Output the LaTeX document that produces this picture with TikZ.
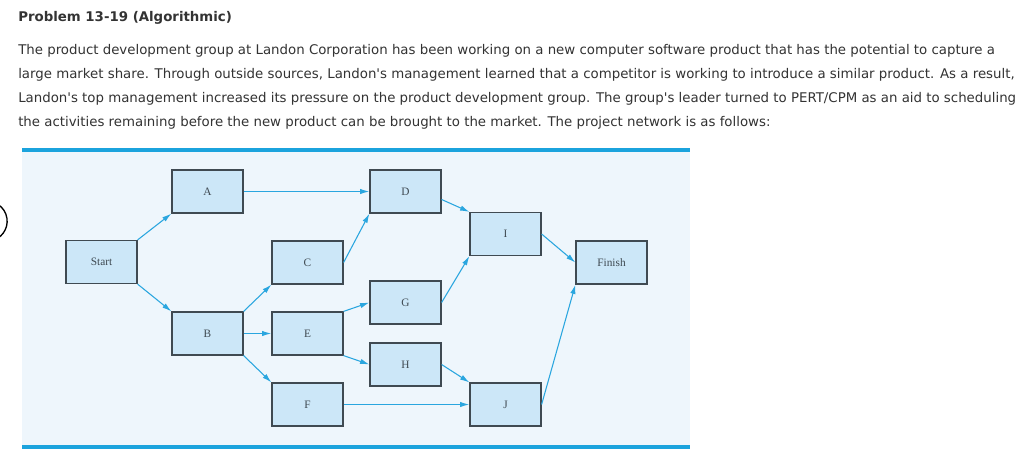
\documentclass[tikz,border=0pt]{standalone}
\usepackage{fontspec}
\setmainfont{DejaVu Sans}
\newfontfamily\boxfont{Liberation Serif}
\usetikzlibrary{arrows.meta}
\definecolor{barblue}{HTML}{1BA3DD}
\definecolor{panel}{HTML}{EEF6FC}
\definecolor{boxfill}{HTML}{CCE7F8}
\definecolor{boxline}{HTML}{3F4A52}
\definecolor{edgeblue}{HTML}{2AA6DF}
\definecolor{txt}{HTML}{333333}
\tikzset{
  act/.style={draw=boxline, line width=0.9pt, fill=boxfill, minimum width=71*0.75pt, minimum height=43*0.75pt, inner sep=0pt, font=\boxfont\fontsize{8.5}{10}\selectfont, text=boxline},
  flow/.style={draw=edgeblue, line width=0.8pt, -{Latex[length=7pt,width=4pt]}},
  para/.style={anchor=base west, inner sep=0pt, font=\fontsize{10}{12}\selectfont, text=txt}
}
\begin{document}
\begin{tikzpicture}[x=0.75pt,y=-0.75pt]
\useasboundingbox (0,0) rectangle (1024,475);
\fill[white] (0,0) rectangle (1024,475);
\node[para, font=\bfseries\fontsize{10}{12}\selectfont] (title) at (18,21) {Problem 13-19 (Algorithmic)};
\node[para] (l1) at (18,54) {The product development group at Landon Corporation has been working on a new computer software product that has the potential to capture a};
\node[para] (l2) at (18,78) {large market share. Through outside sources, Landon\textquotesingle s management learned that a competitor is working to introduce a similar product. As a result,};
\node[para] (l3) at (18,102) {Landon\textquotesingle s top management increased its pressure on the product development group. The group\textquotesingle s leader turned to PERT/CPM as an aid to scheduling};
\node[para] (l4) at (18,126) {the activities remaining before the new product can be brought to the market. The project network is as follows:};
\fill[panel] (22,150) rectangle (690,447);
\fill[barblue] (22,148) rectangle (690,152);
\fill[barblue] (22,445) rectangle (690,449);
\draw[black, line width=1pt] (-6,240) arc[start angle=70, end angle=-70, radius=20];
\node[act] (start) at (101.5,262) {Start};
\node[act] (A) at (207.5,191.5) {A};
\node[act] (B) at (207.5,333.5) {B};
\node[act] (C) at (307.5,262.5) {C};
\node[act] (E) at (307.5,333.5) {E};
\node[act] (F) at (307.5,404.5) {F};
\node[act] (D) at (405.5,191.5) {D};
\node[act] (G) at (405.5,302.5) {G};
\node[act] (H) at (405.5,364.5) {H};
\node[act] (I) at (505.5,234) {I};
\node[act] (J) at (505.5,404.5) {J};
\node[act] (fin) at (611.5,262.5) {Finish};
\draw[flow] (start.north east) -- (A.south west);
\draw[flow] (start.south east) -- (B.north west);
\draw[flow] (A.east) -- (D.west);
\draw[flow] (B.north east) -- (C.south west);
\draw[flow] (B.east) -- (E.west);
\draw[flow] (B.south east) -- (F.north west);
\draw[flow] (C.east) -- (D.south west);
\draw[flow] (E.north east) -- (G.west);
\draw[flow] (E.south east) -- (H.west);
\draw[flow] ([yshift=-6]D.east) -- (I.north west);
\draw[flow] (G.east) -- (I.south west);
\draw[flow] (H.east) -- (J.north west);
\draw[flow] (F.east) -- (J.west);
\draw[flow] (I.east) -- (fin.west);
\draw[flow] (J.east) -- (fin.south west);
\end{tikzpicture}
\end{document}
